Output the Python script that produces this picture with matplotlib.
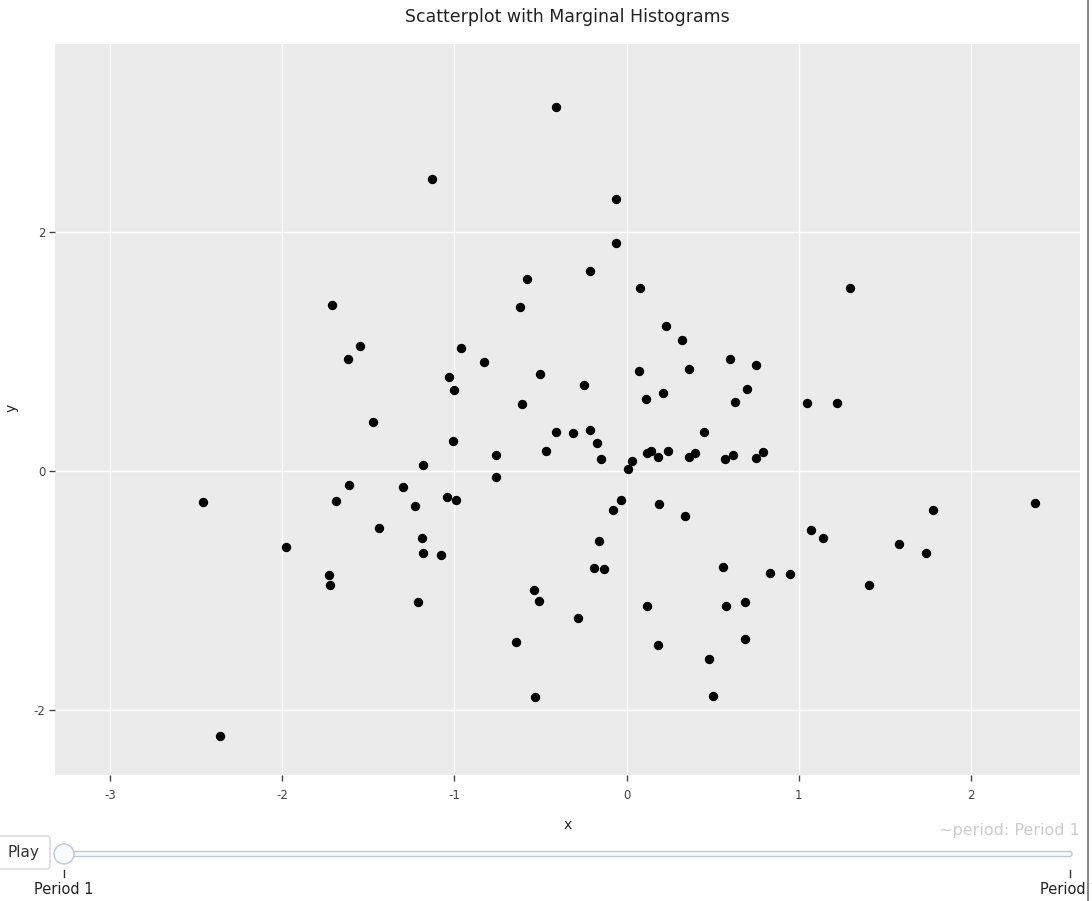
import matplotlib.pyplot as plt
from matplotlib.patches import FancyBboxPatch, Circle

# data
x = [-0.41, -1.13, -0.06, -0.06, -0.21, -0.58, 0.08, 1.30, -1.71, -0.62,
     0.23, 0.32, -1.55, -0.96, -1.62, -0.83, 0.60, 0.75, 0.07, 0.36,
     -0.50, -1.03, -0.25, 0.70, -1.00, 0.21, 0.11, 0.63, -0.61, 1.05,
     1.22, -1.47, -0.41, -0.31, -0.21, 0.45, -1.01, -0.17, -0.47, -0.76,
     -0.15, 0.12, 0.14, 0.18, 0.24, 0.36, 0.40, 0.57, 0.62, 0.75,
     0.79, 0.03, 0.01, -1.18, -0.76, -1.61, -1.30, -1.69, -2.46, -1.04,
     -0.99, -1.23, -0.03, -0.08, 0.19, 0.34, 2.37, 1.07, 1.14, 1.78,
     -1.44, -0.16, 1.58, 1.74, -1.19, -1.98, -1.18, -1.08, -0.19, -0.13,
     0.56, 0.83, 0.95, -1.73, -1.72, 1.41, -0.54, -0.51, -1.21, 0.12,
     0.58, 0.69, -0.28, -0.64, 0.18, 0.69, 0.48, -0.53, 0.50, -2.36]
y = [3.05, 2.44, 2.28, 1.91, 1.67, 1.61, 1.53, 1.53, 1.39, 1.37,
     1.21, 1.10, 1.05, 1.03, 0.94, 0.91, 0.94, 0.89, 0.84, 0.85,
     0.81, 0.79, 0.72, 0.69, 0.68, 0.65, 0.60, 0.58, 0.56, 0.57,
     0.57, 0.41, 0.33, 0.32, 0.34, 0.33, 0.25, 0.23, 0.17, 0.13,
     0.10, 0.15, 0.17, 0.12, 0.17, 0.12, 0.15, 0.10, 0.13, 0.11,
     0.16, 0.08, 0.02, 0.05, -0.05, -0.12, -0.13, -0.25, -0.26, -0.22,
     -0.24, -0.29, -0.24, -0.33, -0.28, -0.38, -0.27, -0.49, -0.56, -0.33,
     -0.48, -0.59, -0.61, -0.69, -0.56, -0.64, -0.69, -0.70, -0.81, -0.82,
     -0.80, -0.85, -0.86, -0.87, -0.95, -0.95, -1.00, -1.09, -1.10, -1.13,
     -1.13, -1.10, -1.23, -1.43, -1.46, -1.41, -1.57, -1.89, -1.88, -2.22]
x_ticks = [-3, -2, -1, 0, 1, 2]
y_ticks = [-2, 0, 2]
period_label = "Period 1"

W, H = 1092, 901
plt.rcParams['font.family'] = ['DejaVu Sans']
plt.rcParams['axes.unicode_minus'] = False
fig = plt.figure(figsize=(W / 100, H / 100), dpi=100)

ax = fig.add_axes([55 / W, 1 - 775 / H, (1080 - 55) / W, (775 - 44) / H])
ax.set_facecolor('#ebebeb')
ax.scatter(x, y, s=33, color='black', zorder=3)
ax.set_xlim(-3.319, 2.633)
ax.set_ylim(-2.544, 3.573)
ax.set_xticks(x_ticks)
ax.set_yticks(y_ticks)
ax.grid(True, color='white', linewidth=1)
ax.set_axisbelow(True)
for s in ax.spines.values():
    s.set_visible(False)
ax.tick_params(colors='#444444', labelsize=8.5, length=4, width=1, pad=6)
ax.tick_params(axis='y', pad=3)

fig.text(567 / W, 1 - 17 / H, 'Scatterplot with Marginal Histograms',
         ha='center', va='center', fontsize=12.5, color='#222222')
fig.text(568 / W, 1 - 825 / H, 'x', ha='center', va='center', fontsize=10, color='#222222')
fig.text(12 / W, 1 - 408 / H, 'y', ha='center', va='center', rotation=90,
         fontsize=10, color='#222222')

# overlay for the animation controls (pixel coordinates)
ov = fig.add_axes([0, 0, 1, 1], facecolor='none')
ov.set_xlim(0, W)
ov.set_ylim(H, 0)
ov.axis('off')

ov.add_patch(FancyBboxPatch((-2, 836), 52, 33, boxstyle='round,pad=0,rounding_size=3',
                            facecolor='white', edgecolor='#d6d6d6', lw=1))
ov.text(23, 852, 'Play', ha='center', va='center', fontsize=11, color='#333333')
ov.add_patch(FancyBboxPatch((64, 851.5), 1008, 5, boxstyle='round,pad=0,rounding_size=2.5',
                            facecolor='#f8fafc', edgecolor='#bec8d9', lw=1))
ov.add_patch(Circle((64, 854), 10, facecolor='#f8fafc', edgecolor='#bec8d9', lw=1, zorder=4))
for tx in [64, 1070]:
    ov.plot([tx, tx], [870, 877], color='#333333', lw=1)
    ov.text(tx, 890, period_label, ha='center', va='center', fontsize=10.5, color='#222222')
ov.text(1080, 831, '~period: ' + period_label, ha='right', va='center',
        fontsize=11.5, color='#cccccc')

# edge of the clipped marginal histogram panel
ov.plot([1087.5, 1087.5], [0, H], color='#888888', lw=1.5)

fig.savefig('out.png', dpi=100)
